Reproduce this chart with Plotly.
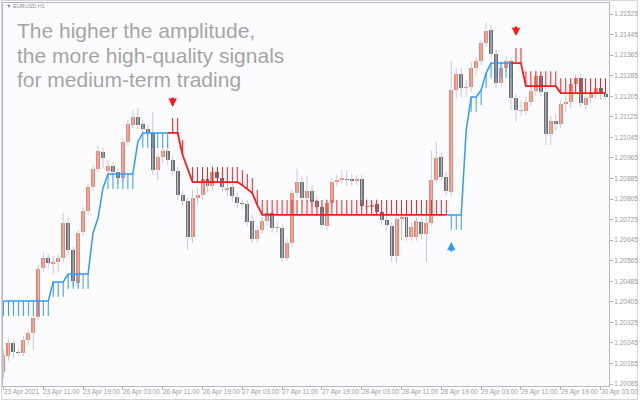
import plotly.graph_objects as go

# ---------------- data ----------------
time_labels = ["23 Apr 2021", "23 Apr 11:00", "23 Apr 19:00", "26 Apr 03:00",
               "26 Apr 11:00", "26 Apr 19:00", "27 Apr 03:00", "27 Apr 11:00",
               "27 Apr 19:00", "28 Apr 03:00", "28 Apr 11:00", "28 Apr 19:00",
               "29 Apr 03:00", "29 Apr 11:00", "29 Apr 19:00", "30 Apr 03:00"]
label_bars = [0, 8, 16, 24, 32, 40, 48, 56, 64, 72, 80, 88, 96, 104, 112, 120]

price_ticks = [1.20085, 1.20165, 1.20245, 1.20325, 1.20405, 1.20485, 1.20565,
               1.20645, 1.20725, 1.20805, 1.20885, 1.20965, 1.21045, 1.21125,
               1.21205, 1.21285, 1.21365, 1.21445, 1.21525]

open_ = [1.20132, 1.20194, 1.20245, 1.20210, 1.20206, 1.20256, 1.20284, 1.20346, 1.20535, 1.20575,
         1.20552, 1.20560, 1.20575, 1.20712, 1.20607, 1.20478, 1.20677, 1.20758, 1.20852, 1.20922,
         1.20988, 1.20914, 1.20933, 1.20910, 1.20887, 1.21027, 1.21093, 1.21124, 1.21097, 1.21077,
         1.21062, 1.20918, 1.20968, 1.20992, 1.20957, 1.20914, 1.20820, 1.20797, 1.20657, 1.20809,
         1.20820, 1.20883, 1.20855, 1.20910, 1.20887, 1.20840, 1.20852, 1.20813, 1.20789, 1.20785,
         1.20719, 1.20649, 1.20684, 1.20719, 1.20750, 1.20692, 1.20692, 1.20575, 1.20634, 1.20828,
         1.20871, 1.20809, 1.20836, 1.20797, 1.20774, 1.20700, 1.20789, 1.20871, 1.20879, 1.20883,
         1.20883, 1.20875, 1.20883, 1.20774, 1.20774, 1.20785, 1.20754, 1.20723, 1.20700, 1.20583,
         1.20727, 1.20735, 1.20657, 1.20657, 1.20715, 1.20669, 1.20712, 1.20879, 1.20968, 1.20890,
         1.20832, 1.21229, 1.21291, 1.21237, 1.21241, 1.21314, 1.21342, 1.21412, 1.21462, 1.21369,
         1.21256, 1.21314, 1.21342, 1.21198, 1.21147, 1.21147, 1.21182, 1.21225, 1.21283, 1.21221,
         1.21058, 1.21108, 1.21097, 1.21174, 1.21182, 1.21252, 1.21276, 1.21171, 1.21198, 1.21213,
         1.21237, 1.21213]
high = [1.20218, 1.20260, 1.20256, 1.20221, 1.20272, 1.20295, 1.20358, 1.20548, 1.20599, 1.20591,
        1.20583, 1.20591, 1.20750, 1.20735, 1.20618, 1.20684, 1.20774, 1.20867, 1.20937, 1.21011,
        1.21003, 1.20957, 1.20949, 1.20925, 1.21042, 1.21112, 1.21151, 1.21159, 1.21112, 1.21093,
        1.21143, 1.20984, 1.21011, 1.21034, 1.20972, 1.20929, 1.20840, 1.20809, 1.20840, 1.20848,
        1.20898, 1.20906, 1.20937, 1.20929, 1.20902, 1.20867, 1.20867, 1.20828, 1.20805, 1.20801,
        1.20743, 1.20700, 1.20735, 1.20766, 1.20762, 1.20715, 1.20708, 1.20649, 1.20844, 1.20922,
        1.20894, 1.20894, 1.20859, 1.20820, 1.20789, 1.20805, 1.20887, 1.20898, 1.20918, 1.20918,
        1.20902, 1.20898, 1.20898, 1.20809, 1.20801, 1.20805, 1.20778, 1.20743, 1.20715, 1.20743,
        1.20754, 1.20750, 1.20715, 1.20735, 1.20731, 1.20758, 1.20992, 1.21027, 1.20984, 1.20910,
        1.21342, 1.21314, 1.21314, 1.21268, 1.21338, 1.21357, 1.21423, 1.21493, 1.21482, 1.21385,
        1.21342, 1.21361, 1.21357, 1.21213, 1.21190, 1.21202, 1.21248, 1.21307, 1.21299, 1.21237,
        1.21128, 1.21136, 1.21190, 1.21206, 1.21268, 1.21291, 1.21291, 1.21217, 1.21229, 1.21252,
        1.21252, 1.21225]
low = [1.20109, 1.20175, 1.20186, 1.20194, 1.20194, 1.20237, 1.20218, 1.20334, 1.20521, 1.20536,
       1.20509, 1.20521, 1.20560, 1.20583, 1.20466, 1.20463, 1.20661, 1.20747, 1.20840, 1.20910,
       1.20925, 1.20887, 1.20887, 1.20863, 1.20875, 1.21011, 1.21081, 1.21077, 1.21058, 1.21046,
       1.20898, 1.20879, 1.20945, 1.20937, 1.20894, 1.20801, 1.20778, 1.20607, 1.20634, 1.20782,
       1.20801, 1.20832, 1.20840, 1.20867, 1.20832, 1.20817, 1.20797, 1.20770, 1.20766, 1.20700,
       1.20634, 1.20634, 1.20669, 1.20700, 1.20677, 1.20673, 1.20560, 1.20564, 1.20618, 1.20813,
       1.20789, 1.20793, 1.20774, 1.20762, 1.20688, 1.20684, 1.20774, 1.20855, 1.20863, 1.20855,
       1.20855, 1.20859, 1.20762, 1.20754, 1.20758, 1.20739, 1.20704, 1.20684, 1.20560, 1.20556,
       1.20645, 1.20642, 1.20642, 1.20642, 1.20645, 1.20560, 1.20700, 1.20867, 1.20875, 1.20820,
       1.20817, 1.21198, 1.21202, 1.21202, 1.21221, 1.21287, 1.21326, 1.21396, 1.21353, 1.21237,
       1.21244, 1.21299, 1.21151, 1.21104, 1.21128, 1.21132, 1.21167, 1.21206, 1.21206, 1.21015,
       1.21015, 1.21073, 1.21081, 1.21143, 1.21159, 1.21229, 1.21163, 1.21155, 1.21178, 1.21194,
       1.21190, 1.21190]
close = [1.20198, 1.20245, 1.20210, 1.20206, 1.20256, 1.20284, 1.20342, 1.20533, 1.20575, 1.20556,
         1.20560, 1.20575, 1.20712, 1.20607, 1.20486, 1.20673, 1.20758, 1.20852, 1.20922, 1.20992,
         1.20964, 1.20933, 1.20910, 1.20887, 1.21027, 1.21097, 1.21124, 1.21093, 1.21077, 1.21062,
         1.20918, 1.20968, 1.20992, 1.20957, 1.20914, 1.20820, 1.20797, 1.20657, 1.20809, 1.20820,
         1.20883, 1.20855, 1.20910, 1.20887, 1.20852, 1.20848, 1.20817, 1.20789, 1.20785, 1.20715,
         1.20649, 1.20684, 1.20719, 1.20750, 1.20692, 1.20696, 1.20575, 1.20634, 1.20828, 1.20871,
         1.20809, 1.20836, 1.20793, 1.20774, 1.20704, 1.20789, 1.20871, 1.20879, 1.20887, 1.20879,
         1.20875, 1.20883, 1.20778, 1.20778, 1.20782, 1.20754, 1.20723, 1.20704, 1.20583, 1.20727,
         1.20735, 1.20657, 1.20696, 1.20719, 1.20669, 1.20712, 1.20879, 1.20964, 1.20890, 1.20836,
         1.21229, 1.21291, 1.21237, 1.21241, 1.21314, 1.21342, 1.21412, 1.21458, 1.21369, 1.21256,
         1.21314, 1.21342, 1.21198, 1.21151, 1.21151, 1.21182, 1.21225, 1.21283, 1.21221, 1.21058,
         1.21108, 1.21097, 1.21174, 1.21182, 1.21252, 1.21276, 1.21178, 1.21198, 1.21213, 1.21237,
         1.21213, 1.21202]

# indicator: trailing level, trend direction (u = up / blue, d = down / red), hatch flags
level = ([1.20408] * 10 + [1.20482] * 3 + [1.20513] * 5 + [1.20673, 1.20731, 1.20848]
         + [1.20902] * 6 + [1.21027] + [1.21062] * 8 + [1.20976, 1.20925]
         + [1.20871] * 10 + [1.20859, 1.20844, 1.20828, 1.20782] + [1.20743] * 41
         + [1.21073] + [1.21202] * 2 + [1.21229, 1.21295] + [1.21334] * 7
         + [1.21244] * 7 + [1.21217] * 10)
trend = ["u"] * 34 + ["d"] * 56 + ["u"] * 13 + ["d"] * 19
hatch = [1] * 18 + [0] * 3 + [1] * 6 + [0] + [1] * 9 + [0] + [1] * 55 + [0] + [1] * 28
band = 0.00058

# signal arrows (tip price)
signal_bar = [34, 90, 103]
signal_price = [1.21163, 1.20638, 1.21439]
signal_dir = ["down", "up", "down"]

# ---------------- styling ----------------
W, H = 640, 400
ML, MR, MT, MB = 2, 29, 3, 14
PW, PH = W - ML - MR, H - MT - MB
BULL, BEAR, WICK = "#F28472", "#6A6D72", "#C9CBD1"
BLUE, RED = "#3399FF", "#FF1A1A"
GRID_TXT = "#9A9AA2"
FONT = "Liberation Sans, Arial, sans-serif"


def py(p):
    return 1 - (p - MT) / PH


def pxx(p):
    return (p - ML) / PW


n = len(open_)
idx = list(range(n))

fig = go.Figure()

# wicks
wx, wy = [], []
for i in idx:
    wx += [i, i, None]
    wy += [low[i], high[i], None]
fig.add_trace(go.Scatter(x=wx, y=wy, mode="lines", line=dict(color=WICK, width=1),
                         hoverinfo="skip"))

# bodies
fig.add_trace(go.Bar(
    x=idx,
    base=[min(o, c) for o, c in zip(open_, close)],
    y=[max(abs(c - o), 0.00003) for o, c in zip(open_, close)],
    width=0.8,
    marker=dict(color=[BULL if c >= o else BEAR for o, c in zip(open_, close)],
                line=dict(width=0)),
    hoverinfo="skip"))

# hatches
for tr, col, sign in (("u", BLUE, -1), ("d", RED, 1)):
    hx, hy = [], []
    for i in idx:
        if trend[i] == tr and hatch[i]:
            hx += [i, i, None]
            hy += [level[i], level[i] + sign * band, None]
    fig.add_trace(go.Scatter(x=hx, y=hy, mode="lines", line=dict(color=col, width=1),
                             hoverinfo="skip"))

# trailing lines
for tr, col, w in (("u", BLUE, 1.5), ("d", RED, 1.8)):
    ly = [level[i] if (trend[i] == tr or (i + 1 < n and trend[i + 1] == tr)) else None
          for i in idx]
    fig.add_trace(go.Scatter(x=idx, y=ly, mode="lines", line=dict(color=col, width=w),
                             connectgaps=False, hoverinfo="skip"))

annotations = []
for b, p, d in zip(signal_bar, signal_price, signal_dir):
    annotations.append(dict(x=b, y=p, xref="x", yref="y", text="", showarrow=True,
                            arrowhead=2, arrowsize=0.7, arrowwidth=2.4,
                            arrowcolor=RED if d == "down" else BLUE,
                            ax=0, ay=-11 if d == "down" else 11))

# x time labels (left aligned at tick)
for b, t in zip(label_bars, time_labels):
    annotations.append(dict(x=b, y=py(392), xref="x", yref="paper", text=t, showarrow=False,
                            xanchor="left", yanchor="middle", xshift=-2,
                            font=dict(family=FONT, size=6.5, color=GRID_TXT)))

# headline text
for txt, yc in (("The higher the amplitude,", 30.5),
                ("the more high-quality signals", 55),
                ("for medium-term trading", 79.5)):
    annotations.append(dict(x=pxx(14), y=py(yc), xref="paper", yref="paper", text=txt,
                            showarrow=False, xanchor="left", yanchor="middle",
                            font=dict(family=FONT, size=21, color="#A5A5A5")))

annotations.append(dict(x=pxx(3), y=py(6), xref="paper", yref="paper",
                        text="▼ EURUSD,H1", showarrow=False, xanchor="left",
                        yanchor="middle", font=dict(family=FONT, size=5.5, color="#8C8C96")))

fig.update_layout(
    width=W, height=H,
    margin=dict(l=ML, r=MR, t=MT, b=MB, pad=0),
    paper_bgcolor="#FFFFFF", plot_bgcolor="#FCFCFE",
    showlegend=False, bargap=0,
    annotations=annotations,
    xaxis=dict(range=[-0.1, 121.7], tickvals=label_bars, showticklabels=False,
               ticks="outside", ticklen=3, tickcolor="#B0B0B8", showgrid=False,
               zeroline=False, showline=True, linecolor="#B8B8C0", linewidth=1,
               mirror=True, fixedrange=True),
    yaxis=dict(side="right", range=[1.200772, 1.215678], tickvals=price_ticks,
               ticktext=[f"{v:.5f}" for v in price_ticks], ticks="outside", ticklen=3,
               tickcolor="#B0B0B8", showgrid=False, zeroline=False, showline=True,
               linecolor="#B8B8C0", linewidth=1, mirror=True,
               tickfont=dict(family=FONT, size=6.5, color=GRID_TXT), fixedrange=True),
    shapes=[dict(type="rect", xref="paper", yref="paper",
                 x0=pxx(0.5), x1=pxx(639.5), y0=py(399.5), y1=py(0.5),
                 line=dict(color="#D6D6DA", width=1), layer="below")],
)

fig.write_html("out.html", config={"displayModeBar": False, "staticPlot": True},
               post_script="document.body.style.margin='0';")
